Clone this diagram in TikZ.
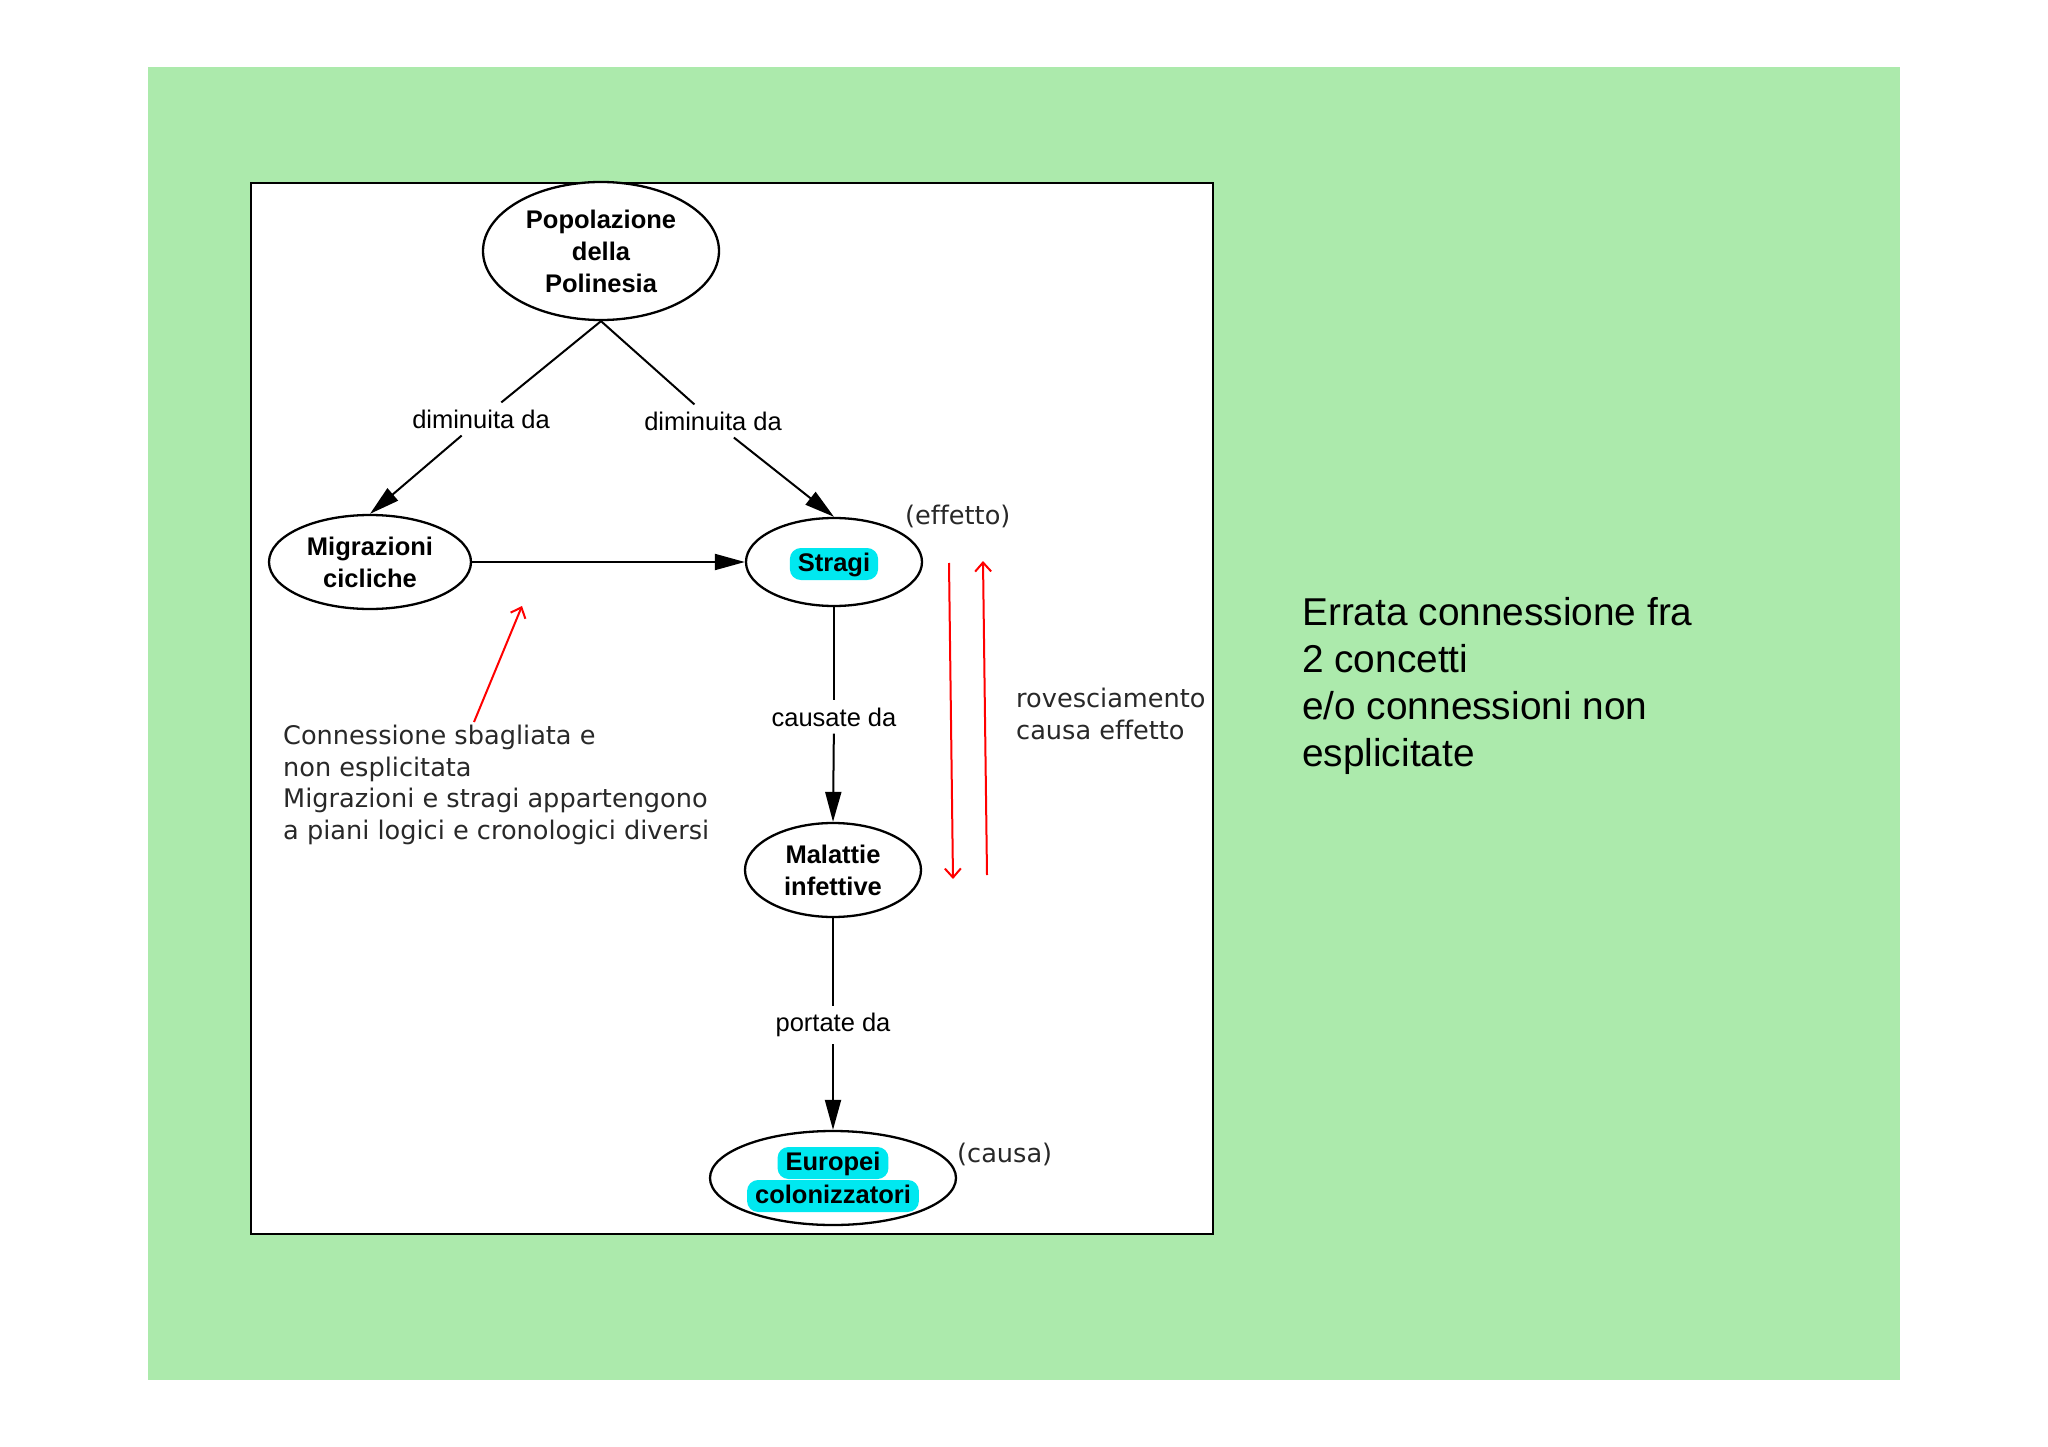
\documentclass[tikz,border=0pt]{standalone}
\usepackage{fontspec}
\setmainfont{Liberation Sans}
\newfontfamily\verd[Ligatures=NoCommon]{DejaVu Sans}
\usetikzlibrary{shapes.geometric,arrows.meta}
\definecolor{bggreen}{RGB}{172,234,172}
\definecolor{hlcyan}{RGB}{0,232,240}
\definecolor{annot}{RGB}{40,40,40}
\tikzset{
  concept/.style={ellipse, draw, line width=2.3pt, inner sep=0pt, fill=white,
    font=\fontsize{25.5}{32}\selectfont\bfseries, align=center},
  hl/.style={fill=hlcyan, rounded corners=11pt, inner xsep=8pt, inner ysep=0pt,
    text height=23pt, text depth=9pt, font=\fontsize{25.5}{32}\selectfont\bfseries},
  linklabel/.style={font=\fontsize{25.5}{32}\selectfont, inner xsep=3pt, inner ysep=7pt},
  link/.style={line width=2pt},
  arrowlink/.style={link, -{Triangle[length=30pt,width=16pt]}},
  redarrow/.style={red, line width=2pt, -{Straight Barb[length=9pt,width=16pt]}},
  annotation/.style={font=\verd\fontsize{25.6}{31.5}\selectfont, text=annot, align=left, inner sep=0pt}
}
\begin{document}
\begin{tikzpicture}[x=1pt,y=-1pt]
\useasboundingbox (0,0) rectangle (2048,1447);
\fill[white] (0,0) rectangle (2048,1447);
\fill[bggreen] (148,67) rectangle (1900,1380);
\draw[line width=2.5pt, fill=white] (251,183) rectangle (1213,1234);

% concepts
\node[concept, minimum width=236pt, minimum height=138pt] (pop) at (601,251) {Popolazione\\della\\Polinesia};
\node[concept, minimum width=202pt, minimum height=94pt] (mig) at (370,562) {Migrazioni\\cicliche};
\node[concept, minimum width=176pt, minimum height=88pt] (str) at (834,562) {};
\node[hl] (strt) at (834,564) {Stragi};
\node[concept, minimum width=176pt, minimum height=94pt] (mal) at (833,870) {Malattie\\infettive};
\node[concept, minimum width=246pt, minimum height=94pt] (eur) at (833,1178) {};
\node[hl] (eur2) at (833,1196) {colonizzatori};
\node[hl] (eur1) at (833,1163) {Europei};

% link labels
\node[linklabel] (l1) at (481,419) {diminuita da};
\node[linklabel] (l2) at (713,421) {diminuita da};
\node[linklabel] (l3) at (834,717) {causate da};
\node[linklabel] (l4) at (833,1025) {portate da};

% links
\draw[link] (pop.south) -- (l1);
\draw[arrowlink] (l1) -- (mig.north);
\draw[link] (pop.south) -- (l2);
\draw[arrowlink] (l2) -- (str.north);
\draw[arrowlink] (mig.east) -- (str.west);
\draw[link] (str.south) -- (l3);
\draw[arrowlink] (l3) -- (mal.north);
\draw[link] (mal.south) -- (l4);
\draw[arrowlink] (l4) -- (eur.north);

% annotations
\node[annotation, anchor=west] (eff) at (905,516) {(effetto)};
\node[annotation, anchor=west] (cau) at (957,1154) {(causa)};
\node[annotation, anchor=west] (rov) at (1016,714) {rovesciamento\\causa effetto};
\node[annotation, anchor=west] (conn) at (283,785) {Connessione sbagliata e\\non esplicitata\\Migrazioni e stragi appartengono\\a piani logici e cronologici diversi};
\node[font=\fontsize{38.8}{47}\selectfont, align=left, inner sep=0pt, anchor=west] (err) at (1302,686)
  {Errata connessione fra\\2 concetti\\e/o connessioni non\\esplicitate};

% red arrows
\coordinate (d1) at (949,563);
\coordinate (d2) at (953,879);
\coordinate (u1) at (987,875);
\coordinate (u2) at (983,561);
\coordinate (c1) at (474,722);
\coordinate (c2) at (522,606);
\draw[redarrow] (d1) -- (d2);
\draw[redarrow] (u1) -- (u2);
\draw[redarrow] (c1) -- (c2);
\end{tikzpicture}
\end{document}
